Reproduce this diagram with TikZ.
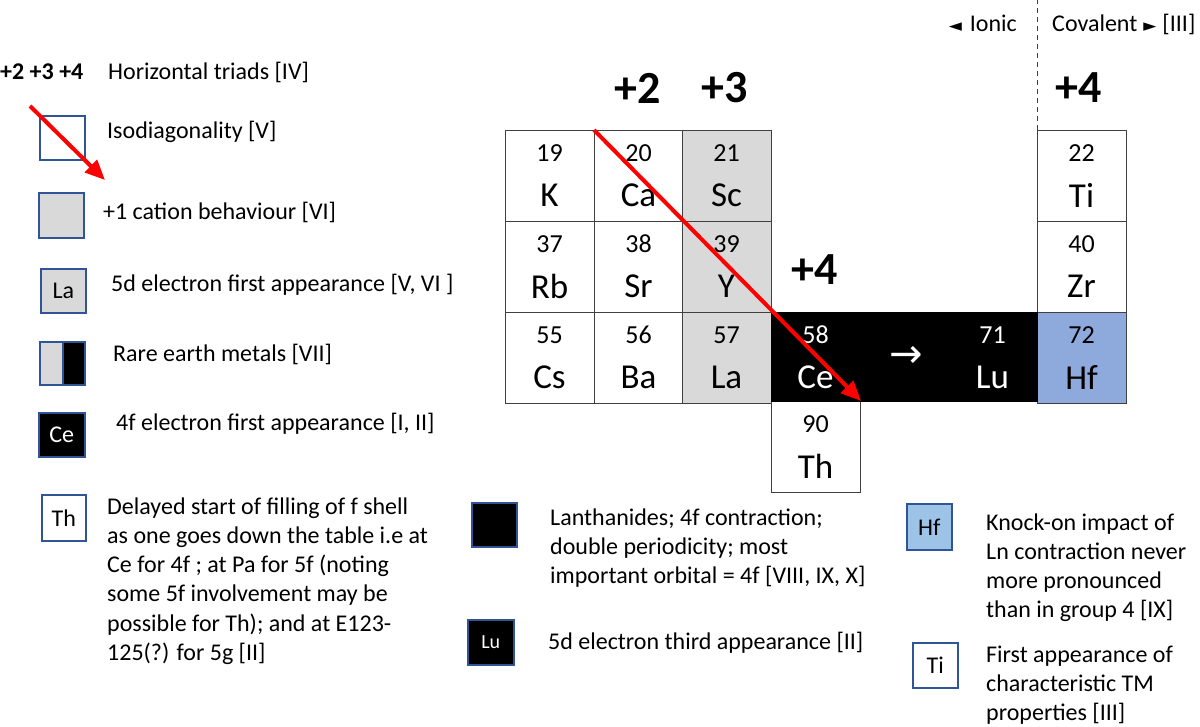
\documentclass[tikz,border=0pt]{standalone}
\usepackage{fontspec}
\setmainfont{Carlito}
\newfontfamily\symfont{DejaVu Sans}
\usetikzlibrary{arrows.meta}
\definecolor{cellgray}{HTML}{D9D9D9}
\definecolor{hfblue}{HTML}{8EA9DB}
\definecolor{hflegend}{HTML}{9DC3E6}
\definecolor{legblue}{HTML}{2F5597}
\definecolor{gridline}{HTML}{404040}
\newcommand{\pcell}[7]{%
  \node[cellbox, fill=#6] (#1) at (#2,#3) {};
  \node[numtxt, text=#7] (#1n) at (#2+44.5,#3+23) {#4};
  \node[symtxt, text=#7] (#1s) at (#2+44.5,#3+65) {#5};
}
\begin{document}
\begin{tikzpicture}[x=1pt,y=-1pt,
  cellbox/.style={draw=gridline, line width=1pt, minimum width=89pt, minimum height=91pt, inner sep=0pt, anchor=north west},
  numtxt/.style={font=\fontsize{26}{26}\selectfont, inner sep=0pt},
  symtxt/.style={font=\fontsize{35}{35}\selectfont, inner sep=0pt},
  ox/.style={font=\bfseries\fontsize{46}{46}\selectfont, inner sep=0pt},
  legbox/.style={draw=legblue, line width=1.6pt, minimum width=45pt, minimum height=44pt, inner sep=0pt, anchor=north west, font=\fontsize{24}{24}\selectfont},
  legtxt/.style={font=\fontsize{24}{29.3}\selectfont, inner sep=0pt, anchor=base west, align=left},
  redarrow/.style={draw=red, line width=4pt, -{Triangle[length=20pt,width=17pt]}},
]
\useasboundingbox (0,0) rectangle (1200,726);
\fill[white] (0,0) rectangle (1200,726);

% ---- periodic table cells ----
\pcell{k}{505}{130}{19}{K}{white}{black}
\pcell{ca}{594}{130}{20}{Ca}{white}{black}
\pcell{sc}{682}{130}{21}{Sc}{cellgray}{black}
\pcell{rb}{505}{221}{37}{Rb}{white}{black}
\pcell{sr}{594}{221}{38}{Sr}{white}{black}
\pcell{y}{682}{221}{39}{Y}{cellgray}{black}
\pcell{cs}{505}{312}{55}{Cs}{white}{black}
\pcell{ba}{594}{312}{56}{Ba}{white}{black}
\pcell{la}{682}{312}{57}{La}{cellgray}{black}
\pcell{ti}{1037}{130}{22}{Ti}{white}{black}
\pcell{zr}{1037}{221}{40}{Zr}{white}{black}
\pcell{hf}{1037}{312}{72}{Hf}{hfblue}{black}
\pcell{th}{771}{401}{90}{Th}{white}{black}

% lanthanide bar
\node[cellbox, fill=black, draw=black, minimum width=266pt, minimum height=89pt] (lnbar) at (771,312) {};
\node[numtxt, text=white] (cen) at (815.5,335) {58};
\node[symtxt, text=white] (ces) at (815.5,377) {Ce};
\node[numtxt, text=white] (lun) at (992.5,335) {71};
\node[symtxt, text=white] (lus) at (992.5,377) {Lu};
\node[inner sep=0pt, text=white, font=\symfont\fontsize{40}{40}\selectfont] (larr) at (906,357) {→};

% oxidation state labels
\node[ox] (p2) at (638,88) {+2};
\node[ox] (p3) at (725,88) {+3};
\node[ox] (p4a) at (1079,88) {+4};
\node[ox] (p4b) at (815,270) {+4};

% ionic / covalent divider
\coordinate (dtop) at (1037,0);
\draw[gridline, line width=1pt, dash pattern=on 5pt off 4pt] (ti.north west) -- (dtop);
\node[legtxt, anchor=base east] (ionic) at (1017,31) {{\symfont\fontsize{17}{17}\selectfont ◄}\hspace{8pt}Ionic};
\node[legtxt] (coval) at (1052,31) {Covalent\hspace{6pt}{\symfont\fontsize{17}{17}\selectfont ►}\hspace{6pt}[III]};

% isodiagonal red arrow
\draw[redarrow] (ca.north west) -- (th.north east);

% ---- legend (left) ----
\node[legtxt, font=\bfseries\fontsize{24}{29.3}\selectfont] (triads) at (0,79) {+2 +3 +4};
\node[legtxt] (triadstxt) at (108,79) {Horizontal triads [IV]};

\node[legbox] (isobox) at (39,115) {};
\node[legtxt] (isotxt) at (107,138) {Isodiagonality [V]};
\coordinate (isoA) at (30,106);
\coordinate (isoB) at (105,180);
\draw[redarrow] (isoA) -- (isoB);

\node[legbox, fill=cellgray, minimum height=45pt] (graybox) at (38,192) {};
\node[legtxt] (graytxt) at (103,219) {+1 cation behaviour [VI]};

\node[legbox, fill=cellgray] (labox) at (40,268) {La};
\node[legtxt] (latxt) at (111,291) {5d electron first appearance [V, VI ]};

\node[legbox, fill=cellgray, minimum width=23pt, minimum height=43pt] (rebox1) at (39,341) {};
\node[legbox, fill=black, minimum width=22pt, minimum height=43pt] (rebox2) at (62,341) {};
\node[legtxt] (retxt) at (113,361) {Rare earth metals [VII]};

\node[legbox, fill=black, text=white, minimum width=46pt] (cebox) at (38,412) {Ce};
\node[legtxt] (cetxt) at (116,430) {4f electron first appearance [I, II]};

\node[legbox, minimum width=44pt, minimum height=46pt] (thbox) at (41,494) {Th};
\node[legtxt] (thtxt) at (107,660.5) {Delayed start of filling of f shell\\as one goes down the table i.e at\\Ce for 4f ; at Pa for 5f (noting\\some 5f involvement may be\\possible for Th); and at E123-\\125(?) for 5g [II]};

% ---- legend (bottom) ----
\node[legbox, fill=black] (lnbox) at (471,502) {};
\node[legtxt] (lntxt) at (550,583.6) {Lanthanides; 4f contraction;\\double periodicity; most\\important orbital = 4f [VIII, IX, X]};

\node[legbox, fill=black, text=white, minimum width=46pt, minimum height=45pt, font=\fontsize{20}{20}\selectfont] (lubox) at (467,619) {Lu};
\node[legtxt] (lutxt) at (548,649) {5d electron third appearance [II]};

\node[legbox, fill=hflegend, minimum height=46pt] (hfbox) at (906,503) {Hf};
\node[legtxt] (hftxt) at (986,617.9) {Knock-on impact of\\Ln contraction never\\more pronounced\\than in group 4 [IX]};

\node[legbox, minimum height=45pt] (tibox) at (912,642) {Ti};
\node[legtxt] (titxt) at (986,720.6) {First appearance of\\characteristic TM\\properties [III]};
\end{tikzpicture}
\end{document}
